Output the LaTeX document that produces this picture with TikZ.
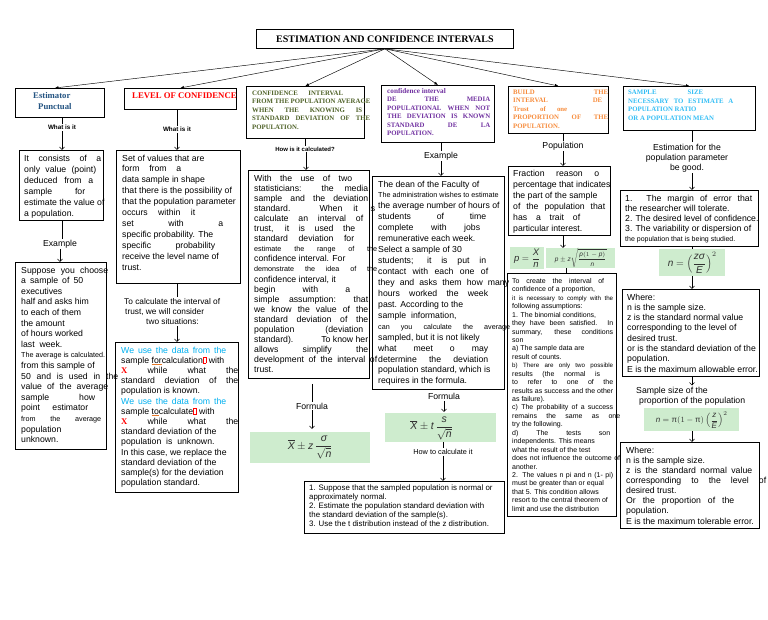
\documentclass[tikz,border=0pt]{standalone}
\usepackage{amsmath}
\usepackage{fontspec}
\setmainfont{Liberation Sans}
\newfontfamily\tnr{Liberation Serif}
\usetikzlibrary{arrows.meta}
\definecolor{gfill}{RGB}{206,236,206}
\definecolor{hblue}{RGB}{36,84,130}
\definecolor{holive}{RGB}{79,98,40}
\definecolor{hpurple}{RGB}{112,48,160}
\definecolor{horange}{RGB}{247,140,60}
\definecolor{hsky}{RGB}{51,190,245}
\definecolor{cyT}{RGB}{0,176,240}
\definecolor{ulc}{RGB}{230,120,40}
\definecolor{fgray}{RGB}{50,50,50}
\newlength\LW
\newcommand\JL[1]{\hbox to \LW{#1}}
\newcommand\NL[1]{\hbox{#1}}
\newcommand\WL[2]{\hbox to #1{#2}}
\newcommand\TB[4]{\vbox{\setlength\LW{#1}\fontsize{#2}{#3}\selectfont #4}}
\newcommand\sm{\fontsize{7.2}{8}\selectfont}
\newcommand\smb{\fontsize{6.2}{7}\selectfont}
\newcommand\rsq{{\color{red}\setlength\fboxsep{0pt}\setlength\fboxrule{0.5pt}\fbox{\rule{0pt}{5.5pt}\hspace{2.5pt}}}}
\newcommand\Xr{{\color{red}\tnr\bfseries X}}
\newcommand\ou[1]{\setbox0\hbox{#1}\rlap{\color{ulc}\rule[-1.6pt]{\wd0}{0.6pt}}\box0}
\newcommand\mi[1]{\text{\itshape #1}}
\newcommand\mkbox[5]{\node[bx,minimum width={(#4-#2)*1pt},minimum height={(#5-#3)*1pt}] (#1) at (#2,#3) {};}
\newcommand\mkgreen[5]{\node[gbx,minimum width={(#4-#2)*1pt},minimum height={(#5-#3)*1pt}] (#1) at (#2,#3) {};}
\begin{document}
\begin{tikzpicture}[x=1pt,y=-1pt,
 bx/.style={draw,line width=0.8pt,inner sep=0pt,anchor=north west},
 gbx/.style={fill=gfill,draw=none,inner sep=0pt,anchor=north west},
 tx/.style={anchor=north west,inner sep=0pt},
 lab/.style={inner sep=1pt},
 ln/.style={line width=0.6pt},
 arr/.style={line width=0.6pt,-{Straight Barb[length=2.6pt,width=5pt]}},
 tarr/.style={line width=0.45pt,-{Latex[length=3.5pt,width=3pt]}},
 fml/.style={text=fgray,inner sep=0pt},
 hd/.style={tx,font={\tnr\bfseries}}]
\fill[white] (0,0) rectangle (768,620);
\useasboundingbox (0,0) rectangle (768,620);
% ---------- boxes
\mkbox{T}{256}{29}{513}{48}
\mkbox{e1}{15}{88}{104}{117}
\mkbox{e2}{124}{88}{236}{109}
\mkbox{e3}{246}{86}{364}{138}
\mkbox{e4}{381}{85}{494}{142}
\mkbox{e5}{508}{86}{608}{133}
\mkbox{e6}{623}{86}{755}{130}
\mkbox{b1}{19}{150}{103}{220}
\mkbox{c1}{15}{262}{106}{449}
\mkbox{a2}{116}{150}{240}{283}
\mkbox{b2}{115}{342}{238}{492}
\mkbox{bx3}{248}{170}{369}{378}
\mkbox{bx4}{372}{176}{504}{389}
\mkbox{bx7}{304}{481}{504}{533}
\mkbox{bx5a}{508}{166}{610}{235}
\mkbox{bx5b}{507}{273}{616}{516}
\mkbox{bx6a}{620}{190}{758}{246}
\mkbox{bx6b}{622}{289}{759}{376}
\mkbox{bx6c}{620}{442}{759}{528}
% ---------- green formula boxes
\mkgreen{G3}{250}{432}{370}{463}
\mkgreen{G4}{385}{413}{496}{442}
\mkgreen{G5a}{510}{247}{544}{269}
\mkgreen{G5b}{546}{248}{615}{268}
\mkgreen{G6a}{659}{249}{725}{276}
\mkgreen{G6b}{644}{408}{739}{431}
\node[fml,font=\fontsize{10.5}{12}\selectfont] (G3f) at (G3.center) {$\displaystyle\overline{\mi{X}}\pm \mi{z}\,\frac{\mi{σ}}{\sqrt{\mi{n}}}$};
\node[fml,font=\fontsize{10.5}{12}\selectfont] (G4f) at ([xshift=-9pt,yshift=-0.5pt]G4.center) {$\displaystyle\overline{\mi{X}}\pm \mi{t}\,\frac{\mi{s}}{\sqrt{\mi{n}}}$};
\node[fml,font=\fontsize{9.5}{11}\selectfont] (G5af) at (G5a.center) {$\displaystyle \mi{p}=\frac{\mi{X}}{\mi{n}}$};
\node[fml,font=\fontsize{6.5}{7}\selectfont] (G5bf) at (G5b.center) {$\displaystyle \mi{p}\pm \mi{z}\sqrt{\frac{\mi{p}(1-\mi{p})}{\mi{n}}}$};
\node[fml,font=\fontsize{10}{12}\selectfont] (G6af) at (G6a.center) {$\displaystyle \mi{n}=\left(\frac{\mi{zσ}}{\mi{E}}\right)^{2}$};
\node[fml,font=\fontsize{8}{10}\selectfont] (G6bf) at ([yshift=-0.5pt]G6b.center) {$\displaystyle \mi{n}=\text{π}(1-\text{π})\left(\frac{\mi{z}}{\mi{E}}\right)^{2}$};
% ---------- title and headers
\node[font={\tnr\bfseries\fontsize{10}{12}\selectfont}] (Tt) at (T.center) {ESTIMATION AND CONFIDENCE INTERVALS};
\node[hd,text=hblue] (h1) at (33,91.8) {\TB{80pt}{8.7}{11}{\NL{Estimator}\NL{\hspace{5pt}Punctual}}};
\node[hd,text=red] (h2) at (132,92.6) {\TB{100pt}{8.7}{11}{\NL{LEVEL OF CONFIDENCE}}};
\node[hd,text=holive] (h3) at (252,90.7) {\TB{110pt}{6.8}{8.5}{%
\WL{91pt}{CONFIDENCE INTERVAL}
\NL{FROM THE POPULATION AVERAGE}
\WL{110pt}{WHEN THE KNOWING IS}
\WL{118pt}{STANDARD DEVIATION OF THE}
\NL{POPULATION.}}};
\node[hd,text=hpurple] (h4) at (387,88.3) {\TB{103pt}{6.8}{8.4}{%
\NL{\fontsize{7.2}{8}\selectfont confidence interval}
\JL{DE THE MEDIA}
\JL{POPULATIONAL WHEN NOT}
\JL{THE DEVIATION IS KNOWN}
\JL{STANDARD DE LA}
\NL{POPULATION.}}};
\node[hd,text=horange] (h5) at (513,89.7) {\TB{95pt}{6.8}{8.5}{%
\JL{BUILD THE}
\WL{89pt}{INTERVAL DE}
\WL{54pt}{Trust of one}
\JL{PROPORTION OF THE}
\NL{POPULATION.}}};
\node[hd,text=hsky] (h6) at (628,89.7) {\TB{105pt}{6.8}{8.7}{%
\WL{75pt}{SAMPLE SIZE}
\WL{105pt}{NECESSARY TO ESTIMATE A}
\NL{POPULATION RATIO}
\NL{OR A POPULATION MEAN}}};
% ---------- body texts
\node[tx] (b1t) at (24,154.5) {\TB{77pt}{8.7}{11}{%
\JL{It consists of a}
\WL{72pt}{only value (point)}
\WL{69pt}{deduced from a}
\WL{61pt}{sample for}
\NL{estimate the value of}
\NL{a population.}}};
\node[tx] (c1t) at (21,266.5) {\TB{87pt}{8.7}{10.6}{%
\JL{Suppose you choose}
\WL{62pt}{a sample of 50}
\NL{executives}
\NL{half and asks him}
\NL{to each of them}
\NL{the amount}
\NL{of hours worked}
\NL{last\ \ week.}
\NL{\sm The average is calculated.}
\NL{from this sample of}
\WL{97pt}{50 and is used in the}
\JL{value of the average}
\WL{74pt}{sample how}
\WL{67pt}{point estimator}
\WL{80pt}{\sm from the average}
\NL{population}
\NL{unknown.}}};
\node[tx] (a2t) at (122,154.5) {\TB{113pt}{8.7}{10.9}{%
\NL{Set of values that are}
\WL{59pt}{form from a}
\NL{data sample in shape}
\NL{that there is the possibility of}
\NL{that the population parameter}
\WL{73pt}{occurs within it}
\WL{101pt}{set with a}
\NL{specific probability. The}
\WL{93pt}{specific probability}
\NL{receive the level name of}
\NL{trust.}}};
\node[tx] (T2) at (124,298.6) {\TB{101pt}{8.3}{10}{%
\NL{To calculate the interval of}
\NL{\hspace{1pt}trust, we will consider}
\NL{\hspace{22pt}two situations:}}};
\node[tx] (b2t) at (121,346.5) {\TB{117pt}{8.7}{10.2}{%
\WL{105pt}{\color{cyT}We use the data from the}
\NL{sample \ou{for} calculation\rsq{} with}
\JL{\Xr{} while what the}
\JL{standard deviation of the}
\NL{population is known.}
\WL{105pt}{\color{cyT}We use the data from the}
\NL{sample \ou{to} calculate\rsq{} with}
\JL{\Xr{} while what the}
\NL{standard deviation of the}
\NL{population\ \ is\ \ unknown.}
\NL{In this case, we replace the}
\NL{standard deviation of the}
\NL{sample(s) for the deviation}
\NL{population standard.}}};
\node[tx] (t3) at (254,174.5) {\TB{114pt}{8.7}{10.1}{%
\WL{98pt}{With the use of two}
\JL{statisticians: the media}
\JL{sample and the deviation}
\WL{121pt}{standard. When it is}
\WL{109pt}{calculate an interval of}
\WL{101pt}{trust, it is used the}
\WL{100pt}{standard deviation for}
\WL{123pt}{\sm estimate the range of the}
\NL{confidence interval. For}
\WL{123pt}{\sm demonstrate the idea of the}
\NL{confidence interval, it}
\WL{96pt}{begin with a}
\JL{simple assumption: that}
\JL{we know the value of the}
\JL{standard deviation of the}
\WL{109pt}{population (deviation}
\JL{standard).\hfill To know her}
\JL{allows simplify the}
\WL{123pt}{development of the interval of}
\NL{trust.}}};
\node[tx] (t4) at (378,180.5) {\TB{110pt}{8.7}{10.94}{%
\NL{The dean of the Faculty of}
\NL{\sm The administration wishes to estimate}
\NL{the average number of hours of}
\WL{108pt}{students of time}
\WL{102pt}{complete with jobs}
\NL{remunerative each week.}
\NL{Select a sample of 30}
\WL{108pt}{students; it is put in}
\JL{contact with each one of}
\WL{131pt}{they and asks them how many}
\JL{hours worked the week}
\NL{past. According to the}
\NL{sample\ \ information,}
\WL{132pt}{\sm can you calculate the average}
\NL{sampled, but it is not likely}
\JL{what meet o may}
\JL{determine the deviation}
\NL{population standard, which is}
\NL{requires in the formula.}}};
\node[tx] (t7) at (309,484.8) {\TB{190pt}{7.9}{9}{%
\NL{1. Suppose that the sampled population is normal or}
\NL{approximately normal.}
\NL{2. Estimate the population standard deviation with}
\NL{the standard deviation of the sample(s).}
\NL{3. Use the t distribution instead of the z distribution.}}};
\node[tx] (t5a) at (513,169.5) {\TB{90pt}{8.7}{11}{%
\WL{86pt}{Fraction reason o}
\NL{percentage that indicates}
\NL{the part of the sample}
\WL{92pt}{of the population that}
\WL{67pt}{has a trait of}
\NL{particular interest.}}};
\node[tx] (t5b) at (512,278.1) {\TB{101pt}{7}{8.44}{%
\WL{92pt}{To create the interval of}
\NL{confidence of a proportion,}
\JL{\smb it is necessary to comply with the}
\NL{following assumptions:}
\NL{1. The binomial conditions,}
\JL{they have been satisfied. In}
\JL{summary, these conditions}
\NL{son}
\NL{a) The sample data are}
\NL{result of counts.}
\JL{\smb b) There are only two possible}
\WL{88pt}{results (the normal is}
\JL{to refer to one of the}
\JL{results as success and the other}
\NL{as failure).}
\JL{c) The probability of a success}
\WL{108pt}{remains the same as one}
\NL{try the following.}
\WL{98pt}{d) The tests son}
\NL{independents. This means}
\NL{what the result of the test}
\WL{108pt}{does not influence the outcome of}
\NL{another.}
\JL{2. The values n pi and n (1- pi)}
\NL{must be greater than or equal}
\NL{that 5. This condition allows}
\NL{resort to the central theorem of}
\NL{limit and use the distribution}}};
\node[tx] (t6a) at (625,194.5) {\TB{127pt}{8.7}{10}{%
\JL{1. The margin of error that}
\NL{the researcher will tolerate.}
\NL{2. The desired level of confidence.}
\NL{3. The variability or dispersion of}
\NL{\fontsize{7}{8}\selectfont the population that is being studied.}}};
\node[tx] (t6b) at (627,293.5) {\TB{127pt}{8.7}{10.3}{%
\NL{Where:}
\NL{n is the sample size.}
\NL{z is the standard normal value}
\NL{corresponding to the level of}
\NL{desired trust.}
\NL{or is the standard deviation of the}
\NL{population.}
\NL{E is the maximum allowable error.}}};
\node[tx] (t6c) at (626,446.5) {\TB{126pt}{8.7}{10.15}{%
\NL{Where:}
\NL{n is the sample size.}
\JL{z is the standard normal value}
\WL{140pt}{corresponding to the level of}
\NL{desired trust.}
\WL{108pt}{Or the proportion of the}
\NL{population.}
\NL{E is the maximum tolerable error.}}};
% ---------- labels
\coordinate (c1x) at (62,0);
\coordinate (c2x) at (177,0);
\coordinate (c3x) at (306,0);
\coordinate (c4x) at (443,0);
\coordinate (c5x) at (563,0);
\coordinate (c5y) at (566,0);
\coordinate (c6x) at (692,0);
\node[lab,font={\bfseries\fontsize{6.3}{7}\selectfont}] (L1) at (62,127.5) {What is it};
\node[lab,font={\bfseries\fontsize{6.3}{7}\selectfont}] (L2) at (177,129.5) {What is it};
\node[lab,font={\fontsize{8.7}{10}\selectfont}] (X1) at (60,244) {Example};
\node[lab,font={\bfseries\fontsize{6}{7}\selectfont}] (L3) at (305,149) {How is it calculated?};
\node[lab,font={\fontsize{8.7}{10}\selectfont}] (X4) at (441,156) {Example};
\node[lab,font={\fontsize{8.7}{10}\selectfont}] (F3) at (312,406) {Formula};
\node[lab,font={\fontsize{8.7}{10}\selectfont}] (F4) at (444,396.5) {Formula};
\node[lab,font={\fontsize{7.3}{9}\selectfont}] (H4) at (443,452) {How to calculate it};
\node[lab,font={\fontsize{8.7}{10}\selectfont}] (P5) at (563,146) {Population};
\node[lab,anchor=north,align=center,font={\fontsize{8.7}{10}\selectfont}] (E6) at (687,142.5) {Estimation for the\\population parameter\\be good.};
\node[tx] (S6) at (636,386.5) {\TB{120pt}{8.7}{10}{\NL{Sample size of the}\NL{\hspace{3pt}proportion of the population}}};
% ---------- title connectors
\draw[tarr] (T.south) -- ([xshift=-5pt]e1.north);
\foreach \n in {e2,e3,e4,e5,e6} \draw[tarr] (T.south) -- (\n.north);
% ---------- column connectors
\draw[ln] (e1.south -| c1x) -- (L1.north -| c1x);
\draw[arr] (L1.south -| c1x) -- (b1.north -| c1x);
\draw[ln] (b1.south -| c1x) -- (X1.north -| c1x);
\draw[arr] (X1.south) -- (X1.south |- c1.north);
\draw[ln] (e2.south -| c2x) -- (L2.north -| c2x);
\draw[arr] (L2.south -| c2x) -- (a2.north -| c2x);
\draw[ln] (a2.south -| c2x) -- ([yshift=2pt]T2.north -| c2x);
\draw[arr] ([yshift=-1pt]T2.south -| c2x) -- (b2.north -| c2x);
\draw[ln] (e3.south -| L3) -- (L3.north);
\draw[arr] (L3.south -| c3x) -- (bx3.north -| c3x);
\draw[ln] ([yshift=-5pt]bx3.south -| F3) -- (F3.north);
\draw[arr,shorten >=3pt] (F3.south) -- (F3.south |- G3.north);
\draw[ln] (e4.south -| X4) -- (X4.north);
\draw[arr] (X4.south) -- (X4.south |- bx4.north);
\draw[arr,shorten >=1pt] (F4.south) -- (F4.south |- G4.north);
\draw[ln] (G4.south -| c4x) -- (H4.north -| c4x);
\draw[arr] (H4.south -| c4x) -- (bx7.north -| c4x);
\draw[ln] (e5.south -| c5x) -- (P5.north -| c5x);
\draw[arr] (P5.south -| c5x) -- (bx5a.north -| c5x);
\draw[arr] (bx5a.south -| c5x) -- (G5b.north -| c5x);
\draw[ln] (G5b.south -| c5y) -- (bx5b.north -| c5y);
\draw[ln] (e6.south -| c6x) -- (E6.north -| c6x);
\draw[arr] (E6.south -| c6x) -- (bx6a.north -| c6x);
\draw[ln] (bx6a.south -| c6x) -- (G6a.north -| c6x);
\draw[arr] (G6a.south -| c6x) -- (bx6b.north -| c6x);
\draw[arr] (bx6b.south -| c6x) -- ([yshift=1pt]S6.north -| c6x);
\draw[arr] (G6b.south -| c6x) -- (bx6c.north -| c6x);
\end{tikzpicture}
\end{document}
